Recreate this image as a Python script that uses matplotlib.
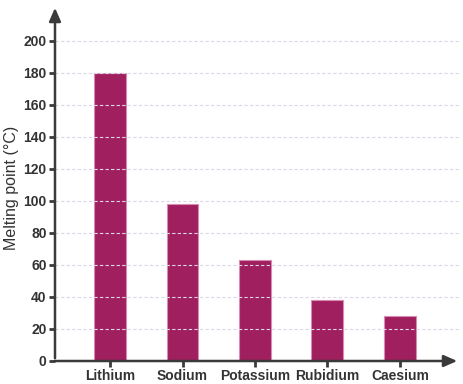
import matplotlib.pyplot as plt
import numpy as np

plt.rcParams['font.family'] = ['Liberation Sans', 'DejaVu Sans']

# melting points of alkali metals
metals = ['Lithium', 'Sodium', 'Potassium', 'Rubidium', 'Caesium']
melting = [180, 98, 63, 38, 28]
yticks = [0, 20, 40, 60, 80, 100, 120, 140, 160, 180, 200]

bar_col = '#a01f5e'
axis_col = '#3a3a3a'

fig = plt.figure(figsize=(4.64, 3.84), dpi=100)
ax = fig.add_axes([55/464, 23/384, 405/464, 356/384])

x = np.arange(len(metals))
ax.bar(x, melting, width=0.44, color=bar_col, edgecolor='#d98cb3', linewidth=0.8, zorder=2)

ax.set_xlim(-0.76, 4.83)
ax.set_ylim(0, 222.5)

# dashed grid, drawn over the bars
for v in yticks[1:]:
    ax.axhline(v, color='#dcd6ea', linestyle=(0, (3, 2)), linewidth=0.8, zorder=3)

for s in ax.spines.values():
    s.set_visible(False)

# axis lines with arrow heads
ax.annotate('', xy=(0, 1.0), xytext=(0, 0), xycoords='axes fraction',
            arrowprops=dict(arrowstyle='-|>,head_width=0.35,head_length=0.8',
                            color=axis_col, lw=1.8), annotation_clip=False)
ax.annotate('', xy=(1.0, 0), xytext=(-0.008, 0), xycoords='axes fraction',
            arrowprops=dict(arrowstyle='-|>,head_width=0.35,head_length=0.8',
                            color=axis_col, lw=1.8), annotation_clip=False)

ax.set_yticks(yticks)
ax.set_yticklabels([str(v) for v in yticks], fontweight='bold', fontsize=10, color='#333333')
ax.set_xticks(x)
ax.set_xticklabels(metals, fontweight='bold', fontsize=10, color='#333333')
ax.tick_params(axis='both', length=4, width=2, color=axis_col, pad=2)

ax.set_ylabel('Melting point (°C)', fontsize=11.5, color='#333333')
ax.yaxis.set_label_coords(-0.088, 0.486)

fig.savefig('out.png', dpi=100)
